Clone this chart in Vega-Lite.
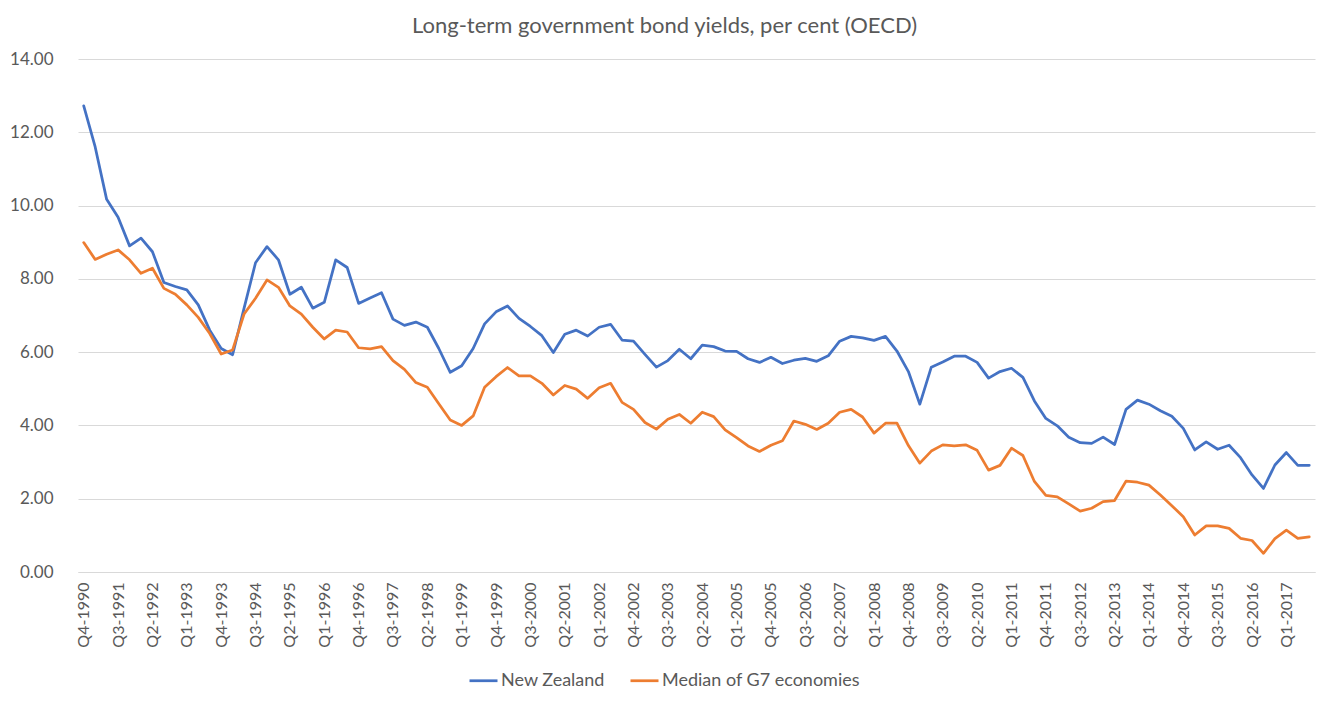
{
  "$schema": "https://vega.github.io/schema/vega-lite/v6.json",
  "autosize": {"type": "none"},
  "width": 1237,
  "height": 513,
  "padding": {"left": 78, "top": 59, "right": 15, "bottom": 133},
  "background": "#ffffff",
  "title": {
    "text": "Long-term government bond yields, per cent (OECD)",
    "font": "Lato",
    "fontSize": 22,
    "fontWeight": "normal",
    "color": "#595959",
    "anchor": "middle",
    "frame": "group",
    "baseline": "alphabetic",
    "dx": -32,
    "offset": -5
  },
  "data": {
    "values": [
      {"q": "Q4-1990", "s": "New Zealand", "v": 12.72},
      {"q": "Q1-1991", "s": "New Zealand", "v": 11.6},
      {"q": "Q2-1991", "s": "New Zealand", "v": 10.17},
      {"q": "Q3-1991", "s": "New Zealand", "v": 9.68},
      {"q": "Q4-1991", "s": "New Zealand", "v": 8.9},
      {"q": "Q1-1992", "s": "New Zealand", "v": 9.11},
      {"q": "Q2-1992", "s": "New Zealand", "v": 8.74},
      {"q": "Q3-1992", "s": "New Zealand", "v": 7.9},
      {"q": "Q4-1992", "s": "New Zealand", "v": 7.79},
      {"q": "Q1-1993", "s": "New Zealand", "v": 7.7},
      {"q": "Q2-1993", "s": "New Zealand", "v": 7.29},
      {"q": "Q3-1993", "s": "New Zealand", "v": 6.6},
      {"q": "Q4-1993", "s": "New Zealand", "v": 6.1},
      {"q": "Q1-1994", "s": "New Zealand", "v": 5.93},
      {"q": "Q2-1994", "s": "New Zealand", "v": 7.2},
      {"q": "Q3-1994", "s": "New Zealand", "v": 8.44},
      {"q": "Q4-1994", "s": "New Zealand", "v": 8.88},
      {"q": "Q1-1995", "s": "New Zealand", "v": 8.52},
      {"q": "Q2-1995", "s": "New Zealand", "v": 7.58},
      {"q": "Q3-1995", "s": "New Zealand", "v": 7.77},
      {"q": "Q4-1995", "s": "New Zealand", "v": 7.2},
      {"q": "Q1-1996", "s": "New Zealand", "v": 7.36},
      {"q": "Q2-1996", "s": "New Zealand", "v": 8.52},
      {"q": "Q3-1996", "s": "New Zealand", "v": 8.31},
      {"q": "Q4-1996", "s": "New Zealand", "v": 7.33},
      {"q": "Q1-1997", "s": "New Zealand", "v": 7.48},
      {"q": "Q2-1997", "s": "New Zealand", "v": 7.62},
      {"q": "Q3-1997", "s": "New Zealand", "v": 6.9},
      {"q": "Q4-1997", "s": "New Zealand", "v": 6.73},
      {"q": "Q1-1998", "s": "New Zealand", "v": 6.82},
      {"q": "Q2-1998", "s": "New Zealand", "v": 6.68},
      {"q": "Q3-1998", "s": "New Zealand", "v": 6.1},
      {"q": "Q4-1998", "s": "New Zealand", "v": 5.45},
      {"q": "Q1-1999", "s": "New Zealand", "v": 5.63},
      {"q": "Q2-1999", "s": "New Zealand", "v": 6.1},
      {"q": "Q3-1999", "s": "New Zealand", "v": 6.77},
      {"q": "Q4-1999", "s": "New Zealand", "v": 7.1},
      {"q": "Q1-2000", "s": "New Zealand", "v": 7.26},
      {"q": "Q2-2000", "s": "New Zealand", "v": 6.92},
      {"q": "Q3-2000", "s": "New Zealand", "v": 6.7},
      {"q": "Q4-2000", "s": "New Zealand", "v": 6.45},
      {"q": "Q1-2001", "s": "New Zealand", "v": 5.99},
      {"q": "Q2-2001", "s": "New Zealand", "v": 6.49},
      {"q": "Q3-2001", "s": "New Zealand", "v": 6.6},
      {"q": "Q4-2001", "s": "New Zealand", "v": 6.44},
      {"q": "Q1-2002", "s": "New Zealand", "v": 6.68},
      {"q": "Q2-2002", "s": "New Zealand", "v": 6.76},
      {"q": "Q3-2002", "s": "New Zealand", "v": 6.33},
      {"q": "Q4-2002", "s": "New Zealand", "v": 6.3},
      {"q": "Q1-2003", "s": "New Zealand", "v": 5.94},
      {"q": "Q2-2003", "s": "New Zealand", "v": 5.59},
      {"q": "Q3-2003", "s": "New Zealand", "v": 5.77},
      {"q": "Q4-2003", "s": "New Zealand", "v": 6.08},
      {"q": "Q1-2004", "s": "New Zealand", "v": 5.82},
      {"q": "Q2-2004", "s": "New Zealand", "v": 6.19},
      {"q": "Q3-2004", "s": "New Zealand", "v": 6.15},
      {"q": "Q4-2004", "s": "New Zealand", "v": 6.03},
      {"q": "Q1-2005", "s": "New Zealand", "v": 6.02},
      {"q": "Q2-2005", "s": "New Zealand", "v": 5.82},
      {"q": "Q3-2005", "s": "New Zealand", "v": 5.72},
      {"q": "Q4-2005", "s": "New Zealand", "v": 5.86},
      {"q": "Q1-2006", "s": "New Zealand", "v": 5.69},
      {"q": "Q2-2006", "s": "New Zealand", "v": 5.78},
      {"q": "Q3-2006", "s": "New Zealand", "v": 5.83},
      {"q": "Q4-2006", "s": "New Zealand", "v": 5.75},
      {"q": "Q1-2007", "s": "New Zealand", "v": 5.9},
      {"q": "Q2-2007", "s": "New Zealand", "v": 6.3},
      {"q": "Q3-2007", "s": "New Zealand", "v": 6.43},
      {"q": "Q4-2007", "s": "New Zealand", "v": 6.39},
      {"q": "Q1-2008", "s": "New Zealand", "v": 6.32},
      {"q": "Q2-2008", "s": "New Zealand", "v": 6.43},
      {"q": "Q3-2008", "s": "New Zealand", "v": 6.03},
      {"q": "Q4-2008", "s": "New Zealand", "v": 5.47},
      {"q": "Q1-2009", "s": "New Zealand", "v": 4.58},
      {"q": "Q2-2009", "s": "New Zealand", "v": 5.59},
      {"q": "Q3-2009", "s": "New Zealand", "v": 5.73},
      {"q": "Q4-2009", "s": "New Zealand", "v": 5.89},
      {"q": "Q1-2010", "s": "New Zealand", "v": 5.89},
      {"q": "Q2-2010", "s": "New Zealand", "v": 5.72},
      {"q": "Q3-2010", "s": "New Zealand", "v": 5.29},
      {"q": "Q4-2010", "s": "New Zealand", "v": 5.47},
      {"q": "Q1-2011", "s": "New Zealand", "v": 5.56},
      {"q": "Q2-2011", "s": "New Zealand", "v": 5.31},
      {"q": "Q3-2011", "s": "New Zealand", "v": 4.67},
      {"q": "Q4-2011", "s": "New Zealand", "v": 4.19},
      {"q": "Q1-2012", "s": "New Zealand", "v": 3.99},
      {"q": "Q2-2012", "s": "New Zealand", "v": 3.68},
      {"q": "Q3-2012", "s": "New Zealand", "v": 3.53},
      {"q": "Q4-2012", "s": "New Zealand", "v": 3.51},
      {"q": "Q1-2013", "s": "New Zealand", "v": 3.68},
      {"q": "Q2-2013", "s": "New Zealand", "v": 3.48},
      {"q": "Q3-2013", "s": "New Zealand", "v": 4.44},
      {"q": "Q4-2013", "s": "New Zealand", "v": 4.69},
      {"q": "Q1-2014", "s": "New Zealand", "v": 4.58},
      {"q": "Q2-2014", "s": "New Zealand", "v": 4.4},
      {"q": "Q3-2014", "s": "New Zealand", "v": 4.25},
      {"q": "Q4-2014", "s": "New Zealand", "v": 3.92},
      {"q": "Q1-2015", "s": "New Zealand", "v": 3.33},
      {"q": "Q2-2015", "s": "New Zealand", "v": 3.55},
      {"q": "Q3-2015", "s": "New Zealand", "v": 3.35},
      {"q": "Q4-2015", "s": "New Zealand", "v": 3.46},
      {"q": "Q1-2016", "s": "New Zealand", "v": 3.12},
      {"q": "Q2-2016", "s": "New Zealand", "v": 2.65},
      {"q": "Q3-2016", "s": "New Zealand", "v": 2.28},
      {"q": "Q4-2016", "s": "New Zealand", "v": 2.92},
      {"q": "Q1-2017", "s": "New Zealand", "v": 3.26},
      {"q": "Q2-2017", "s": "New Zealand", "v": 2.91},
      {"q": "Q3-2017", "s": "New Zealand", "v": 2.91},
      {"q": "Q4-1990", "s": "Median of G7 economies", "v": 8.99},
      {"q": "Q1-1991", "s": "Median of G7 economies", "v": 8.53},
      {"q": "Q2-1991", "s": "Median of G7 economies", "v": 8.67},
      {"q": "Q3-1991", "s": "Median of G7 economies", "v": 8.79},
      {"q": "Q4-1991", "s": "Median of G7 economies", "v": 8.52},
      {"q": "Q1-1992", "s": "Median of G7 economies", "v": 8.15},
      {"q": "Q2-1992", "s": "Median of G7 economies", "v": 8.29},
      {"q": "Q3-1992", "s": "Median of G7 economies", "v": 7.74},
      {"q": "Q4-1992", "s": "Median of G7 economies", "v": 7.58},
      {"q": "Q1-1993", "s": "Median of G7 economies", "v": 7.29},
      {"q": "Q2-1993", "s": "Median of G7 economies", "v": 6.95},
      {"q": "Q3-1993", "s": "Median of G7 economies", "v": 6.51},
      {"q": "Q4-1993", "s": "Median of G7 economies", "v": 5.95},
      {"q": "Q1-1994", "s": "Median of G7 economies", "v": 6.06},
      {"q": "Q2-1994", "s": "Median of G7 economies", "v": 7.04},
      {"q": "Q3-1994", "s": "Median of G7 economies", "v": 7.47},
      {"q": "Q4-1994", "s": "Median of G7 economies", "v": 7.97},
      {"q": "Q1-1995", "s": "Median of G7 economies", "v": 7.77},
      {"q": "Q2-1995", "s": "Median of G7 economies", "v": 7.26},
      {"q": "Q3-1995", "s": "Median of G7 economies", "v": 7.04},
      {"q": "Q4-1995", "s": "Median of G7 economies", "v": 6.68},
      {"q": "Q1-1996", "s": "Median of G7 economies", "v": 6.36},
      {"q": "Q2-1996", "s": "Median of G7 economies", "v": 6.6},
      {"q": "Q3-1996", "s": "Median of G7 economies", "v": 6.55},
      {"q": "Q4-1996", "s": "Median of G7 economies", "v": 6.12},
      {"q": "Q1-1997", "s": "Median of G7 economies", "v": 6.09},
      {"q": "Q2-1997", "s": "Median of G7 economies", "v": 6.15},
      {"q": "Q3-1997", "s": "Median of G7 economies", "v": 5.77},
      {"q": "Q4-1997", "s": "Median of G7 economies", "v": 5.53},
      {"q": "Q1-1998", "s": "Median of G7 economies", "v": 5.17},
      {"q": "Q2-1998", "s": "Median of G7 economies", "v": 5.04},
      {"q": "Q3-1998", "s": "Median of G7 economies", "v": 4.59},
      {"q": "Q4-1998", "s": "Median of G7 economies", "v": 4.15},
      {"q": "Q1-1999", "s": "Median of G7 economies", "v": 4.0},
      {"q": "Q2-1999", "s": "Median of G7 economies", "v": 4.26},
      {"q": "Q3-1999", "s": "Median of G7 economies", "v": 5.04},
      {"q": "Q4-1999", "s": "Median of G7 economies", "v": 5.33},
      {"q": "Q1-2000", "s": "Median of G7 economies", "v": 5.58},
      {"q": "Q2-2000", "s": "Median of G7 economies", "v": 5.35},
      {"q": "Q3-2000", "s": "Median of G7 economies", "v": 5.35},
      {"q": "Q4-2000", "s": "Median of G7 economies", "v": 5.15},
      {"q": "Q1-2001", "s": "Median of G7 economies", "v": 4.83},
      {"q": "Q2-2001", "s": "Median of G7 economies", "v": 5.09},
      {"q": "Q3-2001", "s": "Median of G7 economies", "v": 4.99},
      {"q": "Q4-2001", "s": "Median of G7 economies", "v": 4.74},
      {"q": "Q1-2002", "s": "Median of G7 economies", "v": 5.03},
      {"q": "Q2-2002", "s": "Median of G7 economies", "v": 5.15},
      {"q": "Q3-2002", "s": "Median of G7 economies", "v": 4.63},
      {"q": "Q4-2002", "s": "Median of G7 economies", "v": 4.44},
      {"q": "Q1-2003", "s": "Median of G7 economies", "v": 4.08},
      {"q": "Q2-2003", "s": "Median of G7 economies", "v": 3.9},
      {"q": "Q3-2003", "s": "Median of G7 economies", "v": 4.17},
      {"q": "Q4-2003", "s": "Median of G7 economies", "v": 4.3},
      {"q": "Q1-2004", "s": "Median of G7 economies", "v": 4.06},
      {"q": "Q2-2004", "s": "Median of G7 economies", "v": 4.36},
      {"q": "Q3-2004", "s": "Median of G7 economies", "v": 4.24},
      {"q": "Q4-2004", "s": "Median of G7 economies", "v": 3.88},
      {"q": "Q1-2005", "s": "Median of G7 economies", "v": 3.67},
      {"q": "Q2-2005", "s": "Median of G7 economies", "v": 3.44},
      {"q": "Q3-2005", "s": "Median of G7 economies", "v": 3.29},
      {"q": "Q4-2005", "s": "Median of G7 economies", "v": 3.46},
      {"q": "Q1-2006", "s": "Median of G7 economies", "v": 3.58},
      {"q": "Q2-2006", "s": "Median of G7 economies", "v": 4.12},
      {"q": "Q3-2006", "s": "Median of G7 economies", "v": 4.03},
      {"q": "Q4-2006", "s": "Median of G7 economies", "v": 3.89},
      {"q": "Q1-2007", "s": "Median of G7 economies", "v": 4.06},
      {"q": "Q2-2007", "s": "Median of G7 economies", "v": 4.36},
      {"q": "Q3-2007", "s": "Median of G7 economies", "v": 4.44},
      {"q": "Q4-2007", "s": "Median of G7 economies", "v": 4.23},
      {"q": "Q1-2008", "s": "Median of G7 economies", "v": 3.79},
      {"q": "Q2-2008", "s": "Median of G7 economies", "v": 4.06},
      {"q": "Q3-2008", "s": "Median of G7 economies", "v": 4.06},
      {"q": "Q4-2008", "s": "Median of G7 economies", "v": 3.45},
      {"q": "Q1-2009", "s": "Median of G7 economies", "v": 2.97},
      {"q": "Q2-2009", "s": "Median of G7 economies", "v": 3.3},
      {"q": "Q3-2009", "s": "Median of G7 economies", "v": 3.47},
      {"q": "Q4-2009", "s": "Median of G7 economies", "v": 3.44},
      {"q": "Q1-2010", "s": "Median of G7 economies", "v": 3.47},
      {"q": "Q2-2010", "s": "Median of G7 economies", "v": 3.32},
      {"q": "Q3-2010", "s": "Median of G7 economies", "v": 2.78},
      {"q": "Q4-2010", "s": "Median of G7 economies", "v": 2.91},
      {"q": "Q1-2011", "s": "Median of G7 economies", "v": 3.38},
      {"q": "Q2-2011", "s": "Median of G7 economies", "v": 3.18},
      {"q": "Q3-2011", "s": "Median of G7 economies", "v": 2.47},
      {"q": "Q4-2011", "s": "Median of G7 economies", "v": 2.09},
      {"q": "Q1-2012", "s": "Median of G7 economies", "v": 2.05},
      {"q": "Q2-2012", "s": "Median of G7 economies", "v": 1.86},
      {"q": "Q3-2012", "s": "Median of G7 economies", "v": 1.66},
      {"q": "Q4-2012", "s": "Median of G7 economies", "v": 1.74},
      {"q": "Q1-2013", "s": "Median of G7 economies", "v": 1.92},
      {"q": "Q2-2013", "s": "Median of G7 economies", "v": 1.95},
      {"q": "Q3-2013", "s": "Median of G7 economies", "v": 2.48},
      {"q": "Q4-2013", "s": "Median of G7 economies", "v": 2.45},
      {"q": "Q1-2014", "s": "Median of G7 economies", "v": 2.37},
      {"q": "Q2-2014", "s": "Median of G7 economies", "v": 2.1},
      {"q": "Q3-2014", "s": "Median of G7 economies", "v": 1.81},
      {"q": "Q4-2014", "s": "Median of G7 economies", "v": 1.51},
      {"q": "Q1-2015", "s": "Median of G7 economies", "v": 1.01},
      {"q": "Q2-2015", "s": "Median of G7 economies", "v": 1.26},
      {"q": "Q3-2015", "s": "Median of G7 economies", "v": 1.26},
      {"q": "Q4-2015", "s": "Median of G7 economies", "v": 1.19},
      {"q": "Q1-2016", "s": "Median of G7 economies", "v": 0.92},
      {"q": "Q2-2016", "s": "Median of G7 economies", "v": 0.86},
      {"q": "Q3-2016", "s": "Median of G7 economies", "v": 0.51},
      {"q": "Q4-2016", "s": "Median of G7 economies", "v": 0.91},
      {"q": "Q1-2017", "s": "Median of G7 economies", "v": 1.14},
      {"q": "Q2-2017", "s": "Median of G7 economies", "v": 0.92},
      {"q": "Q3-2017", "s": "Median of G7 economies", "v": 0.96}
    ]
  },
  "mark": {"type": "line", "strokeWidth": 2.75, "strokeJoin": "round", "strokeCap": "round"},
  "encoding": {
    "x": {
      "field": "q",
      "type": "ordinal",
      "sort": null,
      "title": null,
      "scale": {"type": "point", "padding": 0.5},
      "axis": {
        "values": ["Q4-1990", "Q3-1991", "Q2-1992", "Q1-1993", "Q4-1993", "Q3-1994", "Q2-1995", "Q1-1996", "Q4-1996", "Q3-1997", "Q2-1998", "Q1-1999", "Q4-1999", "Q3-2000", "Q2-2001", "Q1-2002", "Q4-2002", "Q3-2003", "Q2-2004", "Q1-2005", "Q4-2005", "Q3-2006", "Q2-2007", "Q1-2008", "Q4-2008", "Q3-2009", "Q2-2010", "Q1-2011", "Q4-2011", "Q3-2012", "Q2-2013", "Q1-2014", "Q4-2014", "Q3-2015", "Q2-2016", "Q1-2017"],
        "labelAngle": -90,
        "labelAlign": "right",
        "labelBaseline": "middle",
        "labelFont": "Lato",
        "labelFontSize": 16,
        "labelColor": "#595959",
        "labelPadding": 10,
        "labelOverlap": false,
        "ticks": false,
        "grid": false,
        "domain": true,
        "domainColor": "#d9d9d9",
        "domainWidth": 1
      }
    },
    "y": {
      "field": "v",
      "type": "quantitative",
      "title": null,
      "scale": {"domain": [0, 14], "nice": false, "zero": true},
      "axis": {
        "values": [0, 2, 4, 6, 8, 10, 12, 14],
        "format": ".2f",
        "labelFont": "Lato",
        "labelFontSize": 17,
        "labelColor": "#595959",
        "labelPadding": 25,
        "ticks": false,
        "domain": false,
        "grid": true,
        "gridColor": "#d9d9d9",
        "gridWidth": 1
      }
    },
    "color": {
      "field": "s",
      "type": "nominal",
      "scale": {"domain": ["New Zealand", "Median of G7 economies"], "range": ["#4472c4", "#ed7d31"]},
      "legend": {
        "title": null,
        "orient": "none",
        "legendX": 390,
        "legendY": 606,
        "direction": "horizontal",
        "symbolType": "stroke",
        "symbolSize": 784,
        "symbolStrokeWidth": 2.75,
        "labelFont": "Lato",
        "labelFontSize": 18,
        "labelColor": "#595959",
        "labelLimit": 400,
        "labelOffset": 2,
        "columnPadding": 20
      }
    }
  },
  "config": {"view": {"stroke": null}}
}
